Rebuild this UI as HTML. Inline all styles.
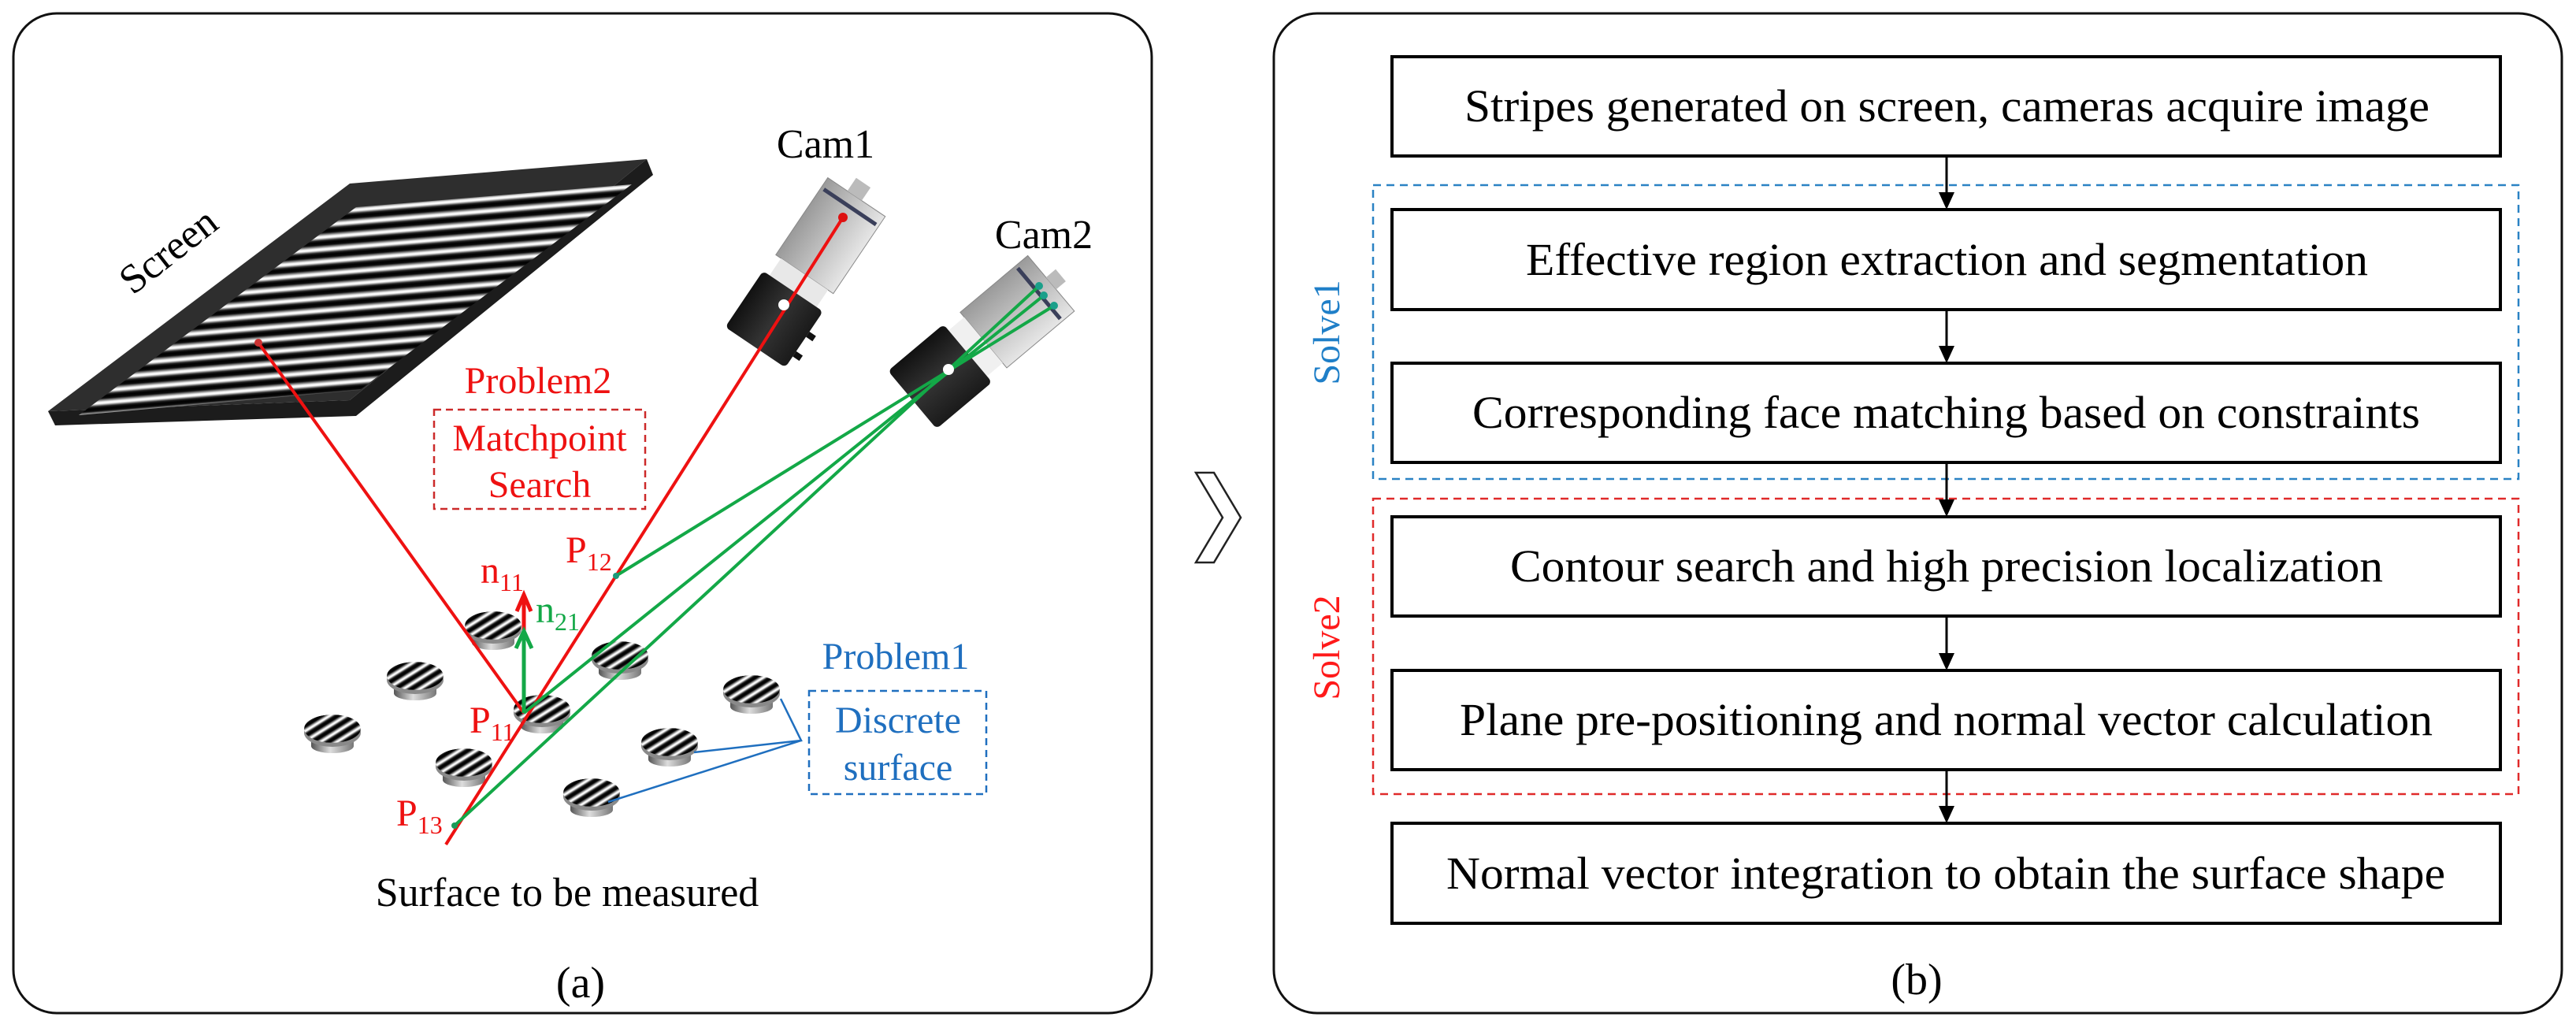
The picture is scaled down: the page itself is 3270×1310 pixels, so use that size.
<!DOCTYPE html>
<html><head><meta charset="utf-8"><style>
html,body{margin:0;padding:0;background:#fff;}
svg{display:block;}
svg text{font-family:"Liberation Serif","DejaVu Serif","Times New Roman",serif;}
</style></head><body>
<svg width="3270" height="1310" viewBox="0 0 3270 1310" xmlns="http://www.w3.org/2000/svg" font-family="'Liberation Serif', 'DejaVu Serif', serif">
<defs>
  <linearGradient id="sg" x1="0" y1="0" x2="0" y2="1">
    <stop offset="0" stop-color="#000"/><stop offset="0.2" stop-color="#0a0a0a"/>
    <stop offset="0.5" stop-color="#f4f4f4"/><stop offset="0.62" stop-color="#fff"/><stop offset="0.85" stop-color="#222"/><stop offset="1" stop-color="#000"/>
  </linearGradient>
  <pattern id="scr" patternUnits="userSpaceOnUse" width="40" height="15.5" patternTransform="rotate(-4.8)">
    <rect width="40" height="15.5" fill="url(#sg)"/>
  </pattern>
  <pattern id="dsk" patternUnits="userSpaceOnUse" width="40" height="11" patternTransform="rotate(-32)">
    <rect width="40" height="11" fill="url(#sg)"/>
  </pattern>
  <linearGradient id="ped" x1="0" y1="0" x2="1" y2="0">
    <stop offset="0" stop-color="#555"/><stop offset="0.45" stop-color="#ddd"/><stop offset="1" stop-color="#777"/>
  </linearGradient>
  <linearGradient id="body" x1="0" y1="0" x2="1" y2="0">
    <stop offset="0" stop-color="#9a9a9a"/><stop offset="0.6" stop-color="#c8c8c8"/><stop offset="1" stop-color="#e6e6e6"/>
  </linearGradient>
  <linearGradient id="lens" x1="0" y1="0" x2="1" y2="0">
    <stop offset="0" stop-color="#111"/><stop offset="0.5" stop-color="#333"/><stop offset="1" stop-color="#1a1a1a"/>
  </linearGradient>
  <clipPath id="dc"><ellipse cx="0" cy="0" rx="36" ry="18"/></clipPath>
  <g id="disc">
    <path d="M-27,0 L-27,22 A27,9 0 0 0 27,22 L27,0 Z" fill="url(#ped)"/>
    <ellipse cx="0" cy="5" rx="36" ry="18" fill="#8a8a8a"/>
    <ellipse cx="0" cy="0" rx="36" ry="18" fill="url(#dsk)" clip-path="url(#dc)"/>
  </g>
</defs>

<!-- Panels -->
<rect x="17" y="17" width="1445" height="1269" rx="55" fill="#fff" stroke="#111" stroke-width="3"/>
<rect x="1617" y="17" width="1635" height="1269" rx="55" fill="#fff" stroke="#111" stroke-width="3"/>

<!-- Chevron -->
<polygon points="1518,600 1541,600 1575,657 1541,714 1518,714 1552,657" fill="#fff" stroke="#222" stroke-width="2.5"/>

<!-- Screen -->
<polygon points="821,202 829,222 452,528 70,540 61,522 444,508" fill="#1c1c1c"/>
<polygon points="444,233 821,202 444,508 61,522" fill="#2e2e2e"/>
<polygon points="452,263 802,234 457,495 100,527" fill="url(#scr)"/>
<text x="215" y="335" font-size="52" text-anchor="middle" transform="rotate(-38 215 320)">Screen</text>

<!-- Discs -->
<use href="#disc" x="626" y="794"/>
<use href="#disc" x="527" y="858"/>
<use href="#disc" x="422" y="925"/>
<use href="#disc" x="787" y="832"/>
<use href="#disc" x="954" y="875"/>
<use href="#disc" x="688" y="900"/>
<use href="#disc" x="850" y="942"/>
<use href="#disc" x="589" y="968"/>
<use href="#disc" x="751" y="1006"/>

<!-- Cam1 -->
<g transform="translate(995,387) rotate(34)">
  <rect x="-44" y="-165" width="88" height="118" fill="url(#body)" stroke="#888" stroke-width="1"/>
  <line x1="-40" y1="-150" x2="40" y2="-150" stroke="#3a3f5a" stroke-width="5"/>
  <rect x="-14" y="-185" width="22" height="20" fill="#bbb"/>
  <rect x="-36" y="-47" width="72" height="26" fill="#e8e8e8"/>
  <rect x="-46" y="-21" width="92" height="86" rx="6" fill="url(#lens)"/>
  <rect x="46" y="10" width="10" height="8" fill="#111"/>
  <rect x="46" y="40" width="10" height="8" fill="#111"/>
</g>
<!-- Cam2 -->
<g transform="translate(1204,469) rotate(50)">
  <rect x="-46" y="-170" width="92" height="112" fill="url(#body)" stroke="#888" stroke-width="1"/>
  <line x1="-42" y1="-150" x2="42" y2="-150" stroke="#3a3f5a" stroke-width="5"/>
  <rect x="-10" y="-186" width="20" height="16" fill="#bbb"/>
  <rect x="-38" y="-58" width="76" height="26" fill="#f0f0f0"/>
  <rect x="-48" y="-32" width="96" height="92" rx="6" fill="url(#lens)"/>
</g>

<!-- Red rays -->
<g stroke="#ee1111" stroke-width="4" fill="none">
  <line x1="328" y1="435" x2="665" y2="905"/>
  <line x1="1070" y1="276" x2="566" y2="1072"/>
</g>
<circle cx="328" cy="435" r="5" fill="#c33"/>
<circle cx="1070" cy="276" r="6" fill="#d11"/>
<!-- Green rays -->
<g stroke="#13a847" stroke-width="4" fill="none">
  <line x1="1319" y1="363" x2="577" y2="1048"/>
  <line x1="1325" y1="375" x2="665" y2="905"/>
  <line x1="1338" y1="388" x2="782" y2="731"/>
</g>
<circle cx="1319" cy="363" r="5" fill="#1aa08a"/>
<circle cx="1325" cy="375" r="5" fill="#1aa08a"/>
<circle cx="1338" cy="388" r="5" fill="#1aa08a"/>
<circle cx="782" cy="731" r="4" fill="#1a9a7a"/>
<circle cx="577" cy="1048" r="4" fill="#1a9a5a"/>
<circle cx="995" cy="387" r="7" fill="#fff"/>
<circle cx="1204" cy="469" r="7" fill="#fff"/>

<!-- Normal arrows -->
<line x1="665" y1="905" x2="665" y2="756" stroke="#ee1111" stroke-width="5"/>
<polyline points="656,776 665,755 674,776" fill="none" stroke="#ee1111" stroke-width="5"/>
<line x1="665" y1="905" x2="665" y2="802" stroke="#13a847" stroke-width="5"/>
<polyline points="655,823 665,801 675,823" fill="none" stroke="#13a847" stroke-width="5"/>

<!-- Blue leader lines -->
<g stroke="#1f6fbf" stroke-width="2.5" fill="none">
  <polyline points="991,887 1017,940 881,955"/>
  <line x1="1017" y1="940" x2="772" y2="1018"/>
</g>

<!-- Labels left -->
<g font-size="52" fill="#000" text-anchor="middle">
  <text x="1048" y="200">Cam1</text>
  <text x="1325" y="315">Cam2</text>
  <text x="720" y="1150">Surface to be measured</text>
  <text x="737" y="1266" font-size="56">(a)</text>
</g>
<g fill="#ee1111" font-size="48">
  <text x="683" y="499" text-anchor="middle">Problem2</text>
  <text x="685" y="572" text-anchor="middle">Matchpoint</text>
  <text x="685" y="631" text-anchor="middle">Search</text>
  <text x="718" y="714">P<tspan font-size="32" dy="10">12</tspan></text>
  <text x="610" y="740">n<tspan font-size="32" dy="10">11</tspan></text>
  <text x="596" y="930">P<tspan font-size="32" dy="10">11</tspan></text>
  <text x="503" y="1048">P<tspan font-size="32" dy="10">13</tspan></text>
</g>
<text x="680" y="790" fill="#13a847" font-size="48">n<tspan font-size="32" dy="10">21</tspan></text>
<rect x="551" y="520" width="268" height="126" fill="none" stroke="#cc2a2a" stroke-width="2.5" stroke-dasharray="9,6"/>
<g fill="#1f6fbf" font-size="48" text-anchor="middle">
  <text x="1137" y="849">Problem1</text>
  <text x="1140" y="930">Discrete</text>
  <text x="1140" y="990">surface</text>
</g>
<rect x="1027" y="877" width="225" height="131" fill="none" stroke="#1f6fbf" stroke-width="2.5" stroke-dasharray="9,6"/>

<!-- Right flowchart -->
<rect x="1743" y="235" width="1454" height="373" fill="none" stroke="#2a82c4" stroke-width="2.5" stroke-dasharray="10,7"/>
<rect x="1743" y="633" width="1454" height="375" fill="none" stroke="#e02a2a" stroke-width="2.5" stroke-dasharray="10,7"/>
<text x="1700" y="422" font-size="48" fill="#1f7fc8" text-anchor="middle" transform="rotate(-90 1700 422)">Solve1</text>
<text x="1700" y="822" font-size="48" fill="#ff1a1a" text-anchor="middle" transform="rotate(-90 1700 822)">Solve2</text>

<g fill="#fff" stroke="#000" stroke-width="4">
  <rect x="1767" y="72" width="1407" height="126"/>
  <rect x="1767" y="266" width="1407" height="127"/>
  <rect x="1767" y="461" width="1407" height="126"/>
  <rect x="1767" y="656" width="1407" height="126"/>
  <rect x="1767" y="851" width="1407" height="126"/>
  <rect x="1767" y="1045" width="1407" height="127"/>
</g>
<g stroke="#000" stroke-width="3">
  <line x1="2471" y1="200" x2="2471" y2="250"/>
  <line x1="2471" y1="395" x2="2471" y2="445"/>
  <line x1="2471" y1="589" x2="2471" y2="640"/>
  <line x1="2471" y1="784" x2="2471" y2="835"/>
  <line x1="2471" y1="979" x2="2471" y2="1029"/>
</g>
<g fill="#000">
  <polygon points="2461,244 2481,244 2471,266"/>
  <polygon points="2461,439 2481,439 2471,461"/>
  <polygon points="2461,634 2481,634 2471,656"/>
  <polygon points="2461,829 2481,829 2471,851"/>
  <polygon points="2461,1023 2481,1023 2471,1045"/>
</g>
<g font-size="58" fill="#000">
  <text x="1859" y="154" textLength="1225" lengthAdjust="spacingAndGlyphs">Stripes generated on screen, cameras acquire image</text>
  <text x="1937" y="349" textLength="1069" lengthAdjust="spacingAndGlyphs">Effective region extraction and segmentation</text>
  <text x="1869" y="543" textLength="1203" lengthAdjust="spacingAndGlyphs">Corresponding face matching based on constraints</text>
  <text x="1917" y="738" textLength="1108" lengthAdjust="spacingAndGlyphs">Contour search and high precision localization</text>
  <text x="1853" y="933" textLength="1235" lengthAdjust="spacingAndGlyphs">Plane pre-positioning and normal vector calculation</text>
  <text x="1836" y="1128" textLength="1268" lengthAdjust="spacingAndGlyphs">Normal vector integration to obtain the surface shape</text>
</g>
<text x="2433" y="1262" font-size="56" text-anchor="middle">(b)</text>
</svg>
</body></html>
